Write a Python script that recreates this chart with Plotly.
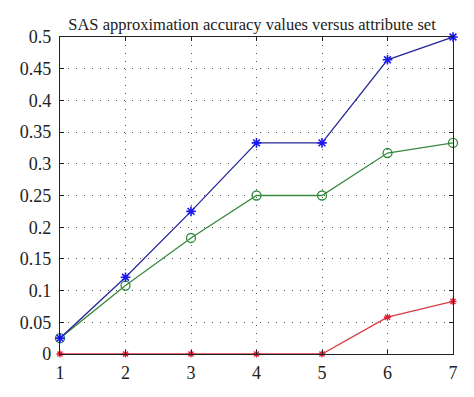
import plotly.graph_objects as go

attribute_set = [1, 2, 3, 4, 5, 6, 7]
blue_values = [0.025, 0.121, 0.225, 0.333, 0.333, 0.464, 0.5]
green_values = [0.025, 0.108, 0.183, 0.25, 0.25, 0.317, 0.333]
red_values = [0, 0, 0, 0, 0, 0.058, 0.083]
x_ticks = [1, 2, 3, 4, 5, 6, 7]
y_ticks = [0, 0.05, 0.1, 0.15, 0.2, 0.25, 0.3, 0.35, 0.4, 0.45, 0.5]
y_tick_labels = ["0", "0.05", "0.1", "0.15", "0.2", "0.25", "0.3", "0.35", "0.4", "0.45", "0.5"]

fig = go.Figure()
fig.add_trace(go.Scatter(
    x=attribute_set, y=red_values, mode="lines+markers",
    line=dict(color="#d93a44", width=1.3),
    marker=dict(symbol="asterisk-open", size=6, color="#e0203a", line=dict(width=1.3, color="#e0203a")),
    showlegend=False, cliponaxis=False))
fig.add_trace(go.Scatter(
    x=attribute_set, y=green_values, mode="lines+markers",
    line=dict(color="#3a8a3e", width=1.3),
    marker=dict(symbol="circle-open", size=9, color="#2e8b3a", line=dict(width=1.3, color="#2e8b3a")),
    showlegend=False, cliponaxis=False))
fig.add_trace(go.Scatter(
    x=attribute_set, y=blue_values, mode="lines+markers",
    line=dict(color="#28289a", width=1.3),
    marker=dict(symbol="asterisk-open", size=8, color="#1a1aee", line=dict(width=1.6, color="#1a1aee")),
    showlegend=False, cliponaxis=False))

serif = "Liberation Serif, DejaVu Serif, serif"
axis_common = dict(
    showline=True, linecolor="#222222", linewidth=1.2, mirror="allticks",
    ticks="inside", ticklen=4, tickcolor="#222222",
    showgrid=True, gridcolor="#555555", gridwidth=1, griddash="1px,7px",
    zeroline=False,
    tickfont=dict(family=serif, size=18, color="#222222"),
)
fig.update_xaxes(range=[1, 7], tickvals=x_ticks, ticklabelstandoff=2, **axis_common)
fig.update_yaxes(range=[0, 0.5], tickvals=y_ticks, ticktext=y_tick_labels, ticklabelstandoff=4, **axis_common)

# page body has an 8px margin; figure origin is at (8, 8) in the page
fig.update_layout(
    width=474, height=397,
    margin=dict(l=43, r=29, t=29, b=51),
    paper_bgcolor="white", plot_bgcolor="white",
    title=dict(text="SAS approximation accuracy values versus attribute set",
               x=244/474, xanchor="center", y=1-16.5/397, yanchor="middle",
               font=dict(family=serif, size=16.5, color="#222222")),
)
fig.write_html("out.html")
